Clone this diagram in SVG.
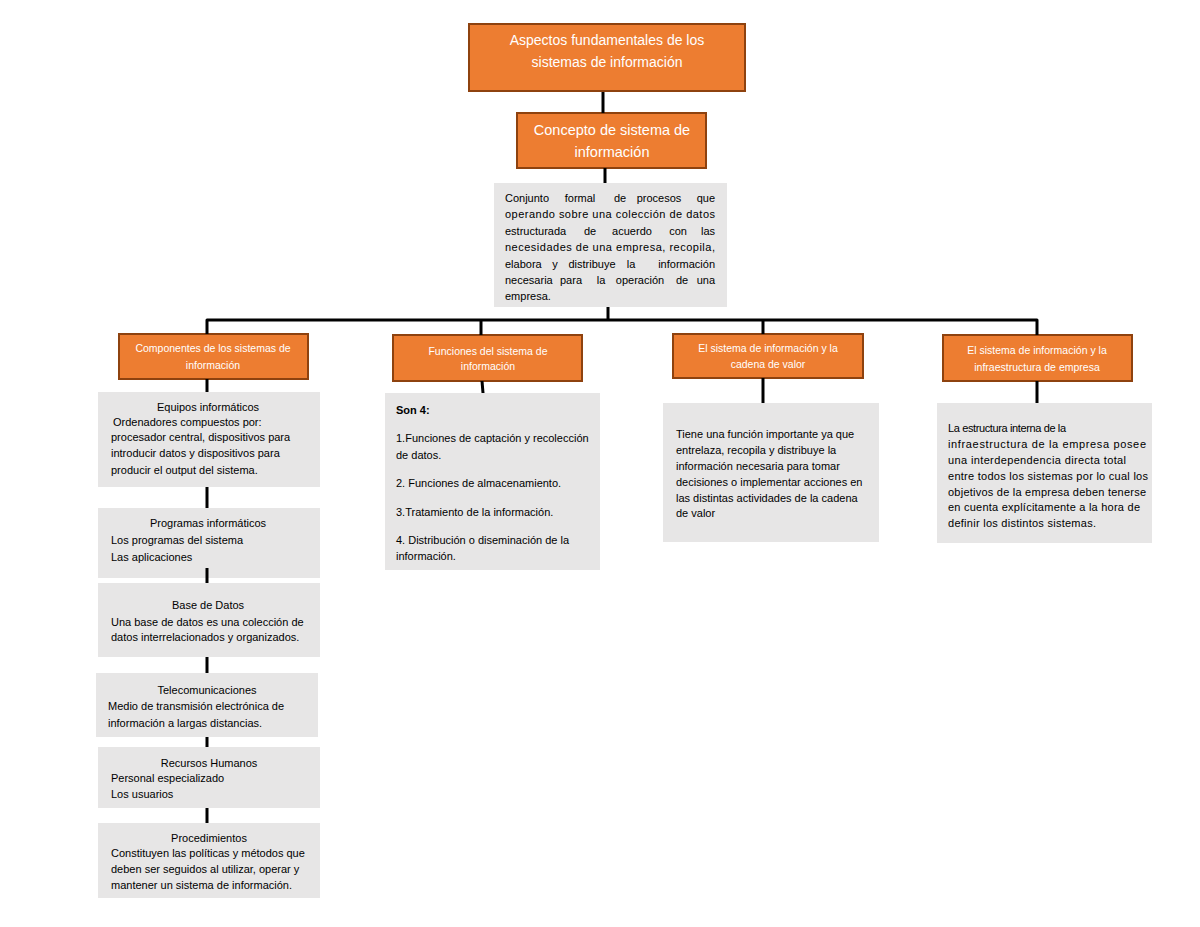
<svg xmlns="http://www.w3.org/2000/svg" width="1200" height="927" viewBox="0 0 1200 927">
<style>
.bg{fill:#ffffff}
.hdr{fill:#ED7D31;stroke:#8E420F;stroke-width:2}
.box{fill:#E7E6E6}
.ln{stroke:#000;stroke-width:3;fill:none;stroke-linejoin:round}
.tw{font-family:"Liberation Sans",Arial,sans-serif;fill:#ffffff}
.tb{font-family:"Liberation Sans",Arial,sans-serif;fill:#000000;font-size:11px}
.c{text-anchor:middle}
.e{text-anchor:end}
.h1{font-size:14px}
.h2{font-size:14.5px}
.h3{font-size:10.5px}
</style>
<rect class="bg" x="0" y="0" width="1200" height="927"/>

<g id="root">
<rect class="hdr" x="469" y="24" width="276" height="67"/>
<text class="tw h1 c" x="607" y="45">Aspectos fundamentales de los</text>
<text class="tw h1 c" x="607" y="67">sistemas de información</text>
</g>

<g id="concepto">
<rect class="hdr" x="517" y="113" width="189" height="55"/>
<text class="tw h2 c" x="612" y="135">Concepto de sistema de</text>
<text class="tw h2 c" x="612" y="157">información</text>
</g>

<g id="definicion">
<rect class="box" x="494" y="183" width="233" height="124"/>
<text class="tb" x="505" y="202">Conjunto</text>
<text class="tb c" x="580" y="202">formal</text>
<text class="tb c" x="620" y="202">de</text>
<text class="tb c" x="659" y="202">procesos</text>
<text class="tb e" x="715" y="202">que</text>
<text class="tb" x="505" y="218" textLength="210" lengthAdjust="spacing">operando sobre una colección de datos</text>
<text class="tb" x="505" y="235">estructurada</text>
<text class="tb c" x="590" y="235">de</text>
<text class="tb c" x="632" y="235">acuerdo</text>
<text class="tb c" x="678" y="235">con</text>
<text class="tb e" x="715" y="235">las</text>
<text class="tb" x="505" y="251" textLength="210" lengthAdjust="spacing">necesidades de una empresa, recopila,</text>
<text class="tb" x="505" y="268">elabora</text>
<text class="tb c" x="555" y="268">y</text>
<text class="tb c" x="592" y="268">distribuye</text>
<text class="tb c" x="631" y="268">la</text>
<text class="tb e" x="715" y="268">información</text>
<text class="tb" x="505" y="284">necesaria</text>
<text class="tb c" x="571" y="284">para</text>
<text class="tb c" x="601" y="284">la</text>
<text class="tb c" x="640" y="284">operación</text>
<text class="tb c" x="682" y="284">de</text>
<text class="tb e" x="715" y="284">una</text>
<text class="tb" x="505" y="300">empresa.</text>
</g>

<g id="componentes">
<rect class="hdr" x="119" y="334" width="189" height="45"/>
<text class="tw h3 c" x="213" y="352">Componentes de los sistemas de</text>
<text class="tw h3 c" x="213" y="369">información</text>
</g>

<g id="funciones">
<rect class="hdr" x="393" y="335" width="189" height="46"/>
<text class="tw h3 c" x="488" y="355">Funciones del sistema de</text>
<text class="tw h3 c" x="488" y="370">información</text>
</g>

<g id="cadena">
<rect class="hdr" x="673" y="334" width="190" height="44"/>
<text class="tw h3 c" x="768" y="352">El sistema de información y la</text>
<text class="tw h3 c" x="768" y="368">cadena de valor</text>
</g>

<g id="infraestructura">
<rect class="hdr" x="943" y="335" width="189" height="46"/>
<text class="tw h3 c" x="1037" y="354">El sistema de información y la</text>
<text class="tw h3 c" x="1037" y="371">infraestructura de empresa</text>
</g>

<g id="equipos">
<rect class="box" x="98" y="392" width="222" height="95"/>
<text class="tb c" x="208" y="411">Equipos informáticos</text>
<text class="tb" x="113" y="426">Ordenadores compuestos por:</text>
<text class="tb" x="111" y="441">procesador central, dispositivos para</text>
<text class="tb" x="111" y="457">introducir datos y dispositivos para</text>
<text class="tb" x="111" y="474">producir el output del sistema.</text>
</g>

<g id="programas">
<rect class="box" x="98" y="508" width="222" height="70"/>
<text class="tb c" x="208" y="527">Programas informáticos</text>
<text class="tb" x="111" y="544">Los programas del sistema</text>
<text class="tb" x="111" y="561">Las aplicaciones</text>
</g>

<g id="basedatos">
<rect class="box" x="98" y="583" width="222" height="74"/>
<text class="tb c" x="208" y="609">Base de Datos</text>
<text class="tb" x="111" y="626">Una base de datos es una colección de</text>
<text class="tb" x="111" y="641">datos interrelacionados y organizados.</text>
</g>

<g id="telecom">
<rect class="box" x="96" y="673" width="222" height="64"/>
<text class="tb c" x="207" y="694">Telecomunicaciones</text>
<text class="tb" x="108" y="710">Medio de transmisión electrónica de</text>
<text class="tb" x="108" y="727">información a largas distancias.</text>
</g>

<g id="recursos">
<rect class="box" x="98" y="747" width="222" height="61"/>
<text class="tb c" x="209" y="767">Recursos Humanos</text>
<text class="tb" x="111" y="782">Personal especializado</text>
<text class="tb" x="111" y="798">Los usuarios</text>
</g>

<g id="procedimientos">
<rect class="box" x="98" y="823" width="222" height="75"/>
<text class="tb c" x="209" y="842">Procedimientos</text>
<text class="tb" x="111" y="857">Constituyen las políticas y métodos que</text>
<text class="tb" x="111" y="873">deben ser seguidos al utilizar, operar y</text>
<text class="tb" x="111" y="889">mantener un sistema de información.</text>
</g>

<g id="funciones-detalle">
<rect class="box" x="385" y="393" width="215" height="177"/>
<text class="tb" x="396" y="414" font-weight="bold">Son 4:</text>
<text class="tb" x="396" y="442">1.Funciones de captación y recolección</text>
<text class="tb" x="396" y="459">de datos.</text>
<text class="tb" x="396" y="487">2. Funciones de almacenamiento.</text>
<text class="tb" x="396" y="516">3.Tratamiento de la información.</text>
<text class="tb" x="396" y="544">4. Distribución o diseminación de la</text>
<text class="tb" x="396" y="560">información.</text>
</g>

<g id="cadena-detalle">
<rect class="box" x="663" y="403" width="216" height="139"/>
<text class="tb" x="676" y="438">Tiene una función importante ya que</text>
<text class="tb" x="676" y="454">entrelaza, recopila y distribuye la</text>
<text class="tb" x="676" y="470">información necesaria para tomar</text>
<text class="tb" x="676" y="486">decisiones o implementar acciones en</text>
<text class="tb" x="676" y="502">las distintas actividades de la cadena</text>
<text class="tb" x="676" y="517">de valor</text>
</g>

<g id="infraestructura-detalle">
<rect class="box" x="937" y="403" width="215" height="140"/>
<text class="tb" x="948" y="432" textLength="118" lengthAdjust="spacing">La estructura interna de la</text>
<text class="tb" x="948" y="448" textLength="198" lengthAdjust="spacing">infraestructura de la empresa posee</text>
<text class="tb" x="948" y="464" textLength="178" lengthAdjust="spacing">una interdependencia directa total</text>
<text class="tb" x="948" y="480" textLength="200" lengthAdjust="spacing">entre todos los sistemas por lo cual los</text>
<text class="tb" x="948" y="496" textLength="198" lengthAdjust="spacing">objetivos de la empresa deben tenerse</text>
<text class="tb" x="948" y="511" textLength="192" lengthAdjust="spacing">en cuenta explícitamente a la hora de</text>
<text class="tb" x="948" y="527" textLength="148" lengthAdjust="spacing">definir los distintos sistemas.</text>
</g>

<g id="connectors">
<path class="ln" d="M603 92 V113"/>
<path class="ln" d="M605 168 V183"/>
<path class="ln" d="M608 307 V320"/>
<path class="ln" d="M207 334 V320 H1037 V335"/>
<path class="ln" d="M481 320 V335"/>
<path class="ln" d="M763 320 V334"/>
<path class="ln" d="M207 379 V392"/>
<path class="ln" d="M482 381 L483 393"/>
<path class="ln" d="M763 378 V403"/>
<path class="ln" d="M1037 381 V403"/>
<path class="ln" d="M207 487 V508"/>
<path class="ln" d="M207 568 V583"/>
<path class="ln" d="M207 657 V673"/>
<path class="ln" d="M207 737 V747"/>
<path class="ln" d="M207 808 V823"/>
</g>
</svg>
